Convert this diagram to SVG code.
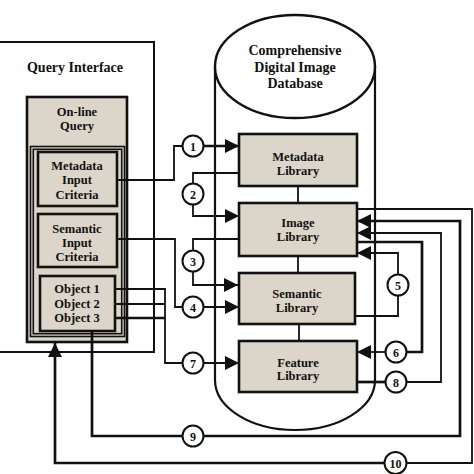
<svg xmlns="http://www.w3.org/2000/svg" width="474" height="474" viewBox="0 0 474 474">
<style>
.t{font-family:"Liberation Serif","Times New Roman",serif;font-weight:bold;font-size:12.5px;fill:#111;text-anchor:middle}
.tt{font-size:14px}
.n{font-size:12px}
.box{fill:#dcd6ca;stroke:#111;stroke-width:2.6}
.ln{fill:none;stroke:#111;stroke-width:1.8}
.tk{fill:none;stroke:#111;stroke-width:2.7}
.c{fill:#fff;stroke:#111;stroke-width:2}
</style>
<defs>
<marker id="ah" markerUnits="userSpaceOnUse" markerWidth="14" markerHeight="14" refX="14" refY="7" orient="auto" viewBox="0 0 14 14">
<path d="M0,0 L14,7 L0,14 z" fill="#111"/>
</marker>
</defs>
<rect width="474" height="474" fill="#fff"/>

<g id="query-interface">
<rect x="-5" y="42" width="159" height="310" fill="#fff" stroke="#111" stroke-width="2"/>
<text class="t tt" x="75" y="71.5">Query Interface</text>
</g>

<g id="online-query">
<rect x="27" y="97" width="100" height="245" class="box" stroke-width="2"/>
<text class="t" x="77" y="115.5">On-line</text>
<text class="t" x="77" y="130">Query</text>
<rect x="30.5" y="146.5" width="94" height="190" fill="none" stroke="#111" stroke-width="1.6"/>
<rect x="33.3" y="149.3" width="88.4" height="184.4" fill="none" stroke="#111" stroke-width="1.6"/>
</g>

<g id="metadata-input">
<rect x="38" y="152" width="79" height="54" class="box"/>
<text class="t" x="77" y="170">Metadata</text>
<text class="t" x="77" y="184">Input</text>
<text class="t" x="77" y="199">Criteria</text>
</g>

<g id="semantic-input">
<rect x="38" y="214" width="79" height="53" class="box"/>
<text class="t" x="77" y="233">Semantic</text>
<text class="t" x="77" y="247">Input</text>
<text class="t" x="77" y="261">Criteria</text>
</g>

<g id="objects">
<rect x="40" y="276" width="75" height="55" class="box"/>
<text class="t" x="77" y="293">Object 1</text>
<text class="t" x="77" y="307.5">Object 2</text>
<text class="t" x="77" y="322">Object 3</text>
</g>

<g id="database">
<path d="M215,66.5 V380 A80,50 0 0 0 375,380 V66.5" fill="none" stroke="#111" stroke-width="2.2"/>
<ellipse cx="295" cy="66.5" rx="80" ry="51.5" fill="#fff" stroke="#111" stroke-width="2.4"/>
<text class="t tt" x="295" y="55">Comprehensive</text>
<text class="t tt" x="295" y="72">Digital Image</text>
<text class="t tt" x="295" y="87.5">Database</text>
</g>

<g id="connectors">
<!-- library links -->
<path class="ln" d="M298,186 V203 M298,256 V273 M299,324 V341"/>
<!-- 1 -->
<path class="ln" d="M117,180 H174 V146 H182.5"/>
<path class="tk" d="M203.5,146 H239" marker-end="url(#ah)"/>
<!-- 2 -->
<path class="ln" d="M239,173 H193 V183.5"/>
<path class="ln" d="M193,204.5 V216 H239" marker-end="url(#ah)"/>
<!-- 3 -->
<path class="ln" d="M239,239 H193 V250.5"/>
<path class="ln" d="M193,271.5 V285 H238" marker-end="url(#ah)"/>
<!-- 4 -->
<path class="ln" d="M117,239 H175 V307 H182.5"/>
<path class="ln" d="M203.5,307 H239" marker-end="url(#ah)"/>
<!-- 7 -->
<path class="ln" d="M115,289 H165 V363 H182.5"/>
<path class="ln" d="M115,304 H165"/>
<path class="tk" d="M115,318 H165"/>
<path class="ln" d="M203.5,363 H239" marker-end="url(#ah)"/>
<!-- 5 -->
<path class="ln" d="M355,316 H398 V295.5"/>
<path class="ln" d="M398,274.5 V253 H357" marker-end="url(#ah)"/>
<!-- 6 -->
<path class="tk" d="M357,242 H422 V352 H406.5"/>
<path class="ln" d="M385.5,352 H357" marker-end="url(#ah)"/>
<!-- 8 -->
<path class="tk" d="M357,382 H385.5"/>
<path class="ln" d="M406.5,382 H441 V233 H357" marker-end="url(#ah)"/>
<!-- 9 -->
<path class="tk" d="M92,331 V436 H182.5"/>
<path class="tk" d="M203.5,436 H460 V221 H357" marker-end="url(#ah)"/>
<!-- 10 -->
<path class="ln" d="M357,209 H472 V463 H406.5"/>
<path class="tk" d="M384.5,463 H55 V343" marker-end="url(#ah)"/>
</g>

<g id="metadata-library">
<rect x="239" y="134" width="118" height="52" class="box"/>
<text class="t" x="298" y="161">Metadata</text>
<text class="t" x="298" y="175">Library</text>
</g>
<g id="image-library">
<rect x="239" y="203" width="118" height="53" class="box"/>
<text class="t" x="298" y="227">Image</text>
<text class="t" x="298" y="241">Library</text>
</g>
<g id="semantic-library">
<rect x="239" y="273" width="116" height="51" class="box"/>
<text class="t" x="297" y="298">Semantic</text>
<text class="t" x="297" y="311.5">Library</text>
</g>
<g id="feature-library">
<rect x="239" y="341" width="118" height="51" class="box"/>
<text class="t" x="298" y="366.5">Feature</text>
<text class="t" x="298" y="379.5">Library</text>
</g>

<g id="labels">
<circle class="c" cx="193" cy="146" r="10.5"/><text class="t n" x="193" y="150.5">1</text>
<circle class="c" cx="193" cy="194" r="10.5"/><text class="t n" x="193" y="198.5">2</text>
<circle class="c" cx="193" cy="261" r="10.5"/><text class="t n" x="193" y="265.5">3</text>
<circle class="c" cx="193" cy="307" r="10.5"/><text class="t n" x="193" y="311.5">4</text>
<circle class="c" cx="398" cy="285" r="10.5"/><text class="t n" x="398" y="289.5">5</text>
<circle class="c" cx="396" cy="352" r="10.5"/><text class="t n" x="396" y="356.5">6</text>
<circle class="c" cx="193" cy="363" r="10.5"/><text class="t n" x="193" y="367.5">7</text>
<circle class="c" cx="396" cy="382" r="10.5"/><text class="t n" x="396" y="386.5">8</text>
<circle class="c" cx="193" cy="436" r="10.5"/><text class="t n" x="193" y="440.5">9</text>
<circle class="c" cx="395.5" cy="463" r="11"/><text class="t n" x="395.5" y="467.5">10</text>
</g>
</svg>
